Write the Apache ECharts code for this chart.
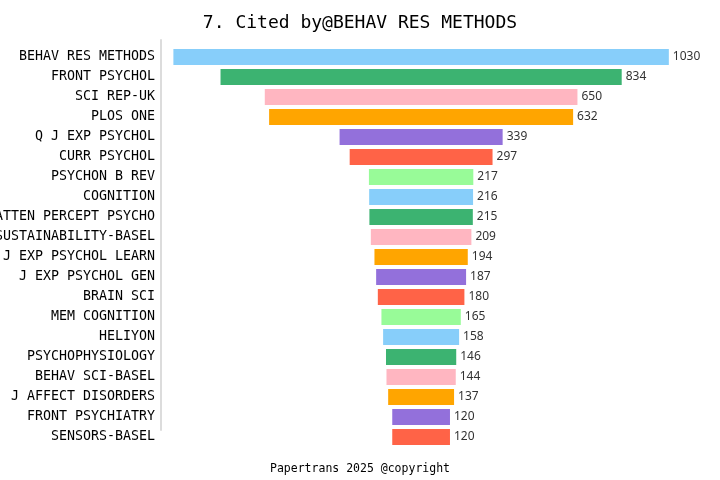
<!DOCTYPE html>
<html>
<head>
<meta charset="utf-8">
<script src="https://cdn.jsdelivr.net/npm/echarts@6/dist/echarts.min.js"></script>
<style>html,body{margin:0;padding:0;background:#fff}#c{width:720px;height:480px}</style>
</head>
<body>
<div id="c"></div>
<script>
const categories = ["BEHAV RES METHODS","FRONT PSYCHOL","SCI REP-UK","PLOS ONE","Q J EXP PSYCHOL","CURR PSYCHOL","PSYCHON B REV","COGNITION","ATTEN PERCEPT PSYCHO","SUSTAINABILITY-BASEL","J EXP PSYCHOL LEARN","J EXP PSYCHOL GEN","BRAIN SCI","MEM COGNITION","HELIYON","PSYCHOPHYSIOLOGY","BEHAV SCI-BASEL","J AFFECT DISORDERS","FRONT PSYCHIATRY","SENSORS-BASEL"];
const values = [1030,834,650,632,339,297,217,216,215,209,194,187,180,165,158,146,144,137,120,120];
const palette = ["#87CEFA","#3CB371","#FFB6C1","#FFA500","#9370DB","#FF6347","#98FB98"];
const titleText = "7. Cited by@BEHAV RES METHODS";
const footerText = "Papertrans 2025 @copyright";

const maxV = Math.max(...values);
const centre = maxV * 1.05;
const offsets = values.map(v => (centre - v) / 2);

const chart = echarts.init(document.getElementById('c'), null, {renderer: 'canvas'});
chart.setOption({
  animation: false,
  backgroundColor: '#fff',
  title: [{
    text: titleText, left: 'center', top: 9,
    textStyle: {fontFamily: 'DejaVu Sans Mono', fontSize: 18, fontWeight: 'normal', color: '#000'}
  }, {
    text: footerText, left: 'center', top: 458,
    textStyle: {fontFamily: 'DejaVu Sans Mono', fontSize: 11.5, fontWeight: 'normal', color: '#000'}
  }],
  grid: [
    {left: 161, top: 47, width: 545, height: 400, containLabel: false, outerBoundsMode: 'none'},
    {left: 161, top: 40, width: 545, height: 390, containLabel: false, outerBoundsMode: 'none'}
  ],
  xAxis: [
    {gridIndex: 0, type: 'value', min: 0, max: maxV * 1.1, show: false},
    {gridIndex: 1, type: 'value', min: 0, max: 1, show: false}
  ],
  yAxis: [
    {gridIndex: 0, type: 'category', data: categories, inverse: true,
     axisLine: {show: false}, axisTick: {show: false},
     axisLabel: {fontFamily: 'DejaVu Sans Mono', fontSize: 13.3, color: '#000', margin: 6}},
    {gridIndex: 1, type: 'category', data: [''], axisLabel: {show: false}, axisTick: {show: false},
     axisLine: {show: true, lineStyle: {color: '#dcdcdc', width: 2}}}
  ],
  series: [
    {type: 'bar', xAxisIndex: 0, yAxisIndex: 0, stack: 's', data: offsets, barWidth: 16,
     itemStyle: {color: 'transparent'}, silent: true},
    {type: 'bar', xAxisIndex: 0, yAxisIndex: 0, stack: 's', barWidth: 16,
     data: values.map((v, i) => ({value: v, itemStyle: {color: palette[i % palette.length]}})),
     label: {show: true, position: 'right', distance: 4, color: '#333',
             fontFamily: 'Noto Sans', fontSize: 12}}
  ]
});
</script>
</body>
</html>
